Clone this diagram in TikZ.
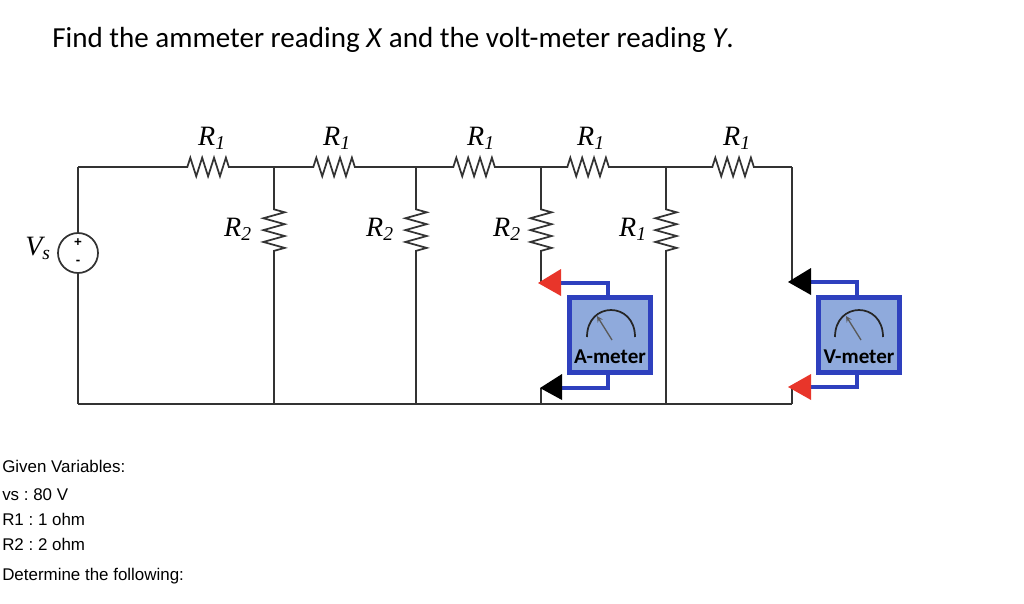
\documentclass[tikz,border=0pt]{standalone}
\usepackage{amsmath}
\usepackage{fontspec}
\setmainfont{Liberation Sans}
\newfontfamily\titlefont{Carlito}
\newfontfamily\lblfont{Liberation Serif}
\usetikzlibrary{decorations.pathmorphing}
\definecolor{meterblue}{HTML}{2E40BE}
\definecolor{meterfill}{HTML}{8FAADC}
\definecolor{tipred}{HTML}{E8352A}
\frenchspacing
\tikzset{
  wire/.style={draw=black!80,line width=1.3pt},
  resistor/.style={wire,decorate,decoration={zigzag,segment length=8.9,amplitude=7,pre length=1,post length=1}},
  resistorv/.style={wire,decorate,decoration={zigzag,segment length=8.9,amplitude=8,pre length=1,post length=1}},
  lead/.style={draw=meterblue,line width=3.6pt},
  meterbox/.style={draw=meterblue,line width=3.6pt,fill=meterfill},
  lbl/.style={inner sep=0pt,font=\lblfont\itshape\fontsize{21}{24}\selectfont},
  given/.style={inner sep=0pt,anchor=base west,font=\fontsize{12.7}{15}\selectfont}
}
\begin{document}
\begin{tikzpicture}[x=0.75pt,y=-0.75pt]
\useasboundingbox (0,0) rectangle (1024,603);
% title and given values
\node [inner sep=0pt,anchor=base west,font=\titlefont\fontsize{21.8}{26}\selectfont] (title) at (52,47) {Find the ammeter reading \textit{X} and the volt-meter reading \textit{Y}.};
\node [given] (given0) at (2,472) {Given Variables:};
\node [given] (given1) at (2,500) {vs : 80 V};
\node [given] (given2) at (2,525) {R1 : 1 ohm};
\node [given] (given3) at (2,550) {R2 : 2 ohm};
\node [given] (given4) at (2,580) {Determine the following:};
% corners and junctions
\coordinate (tl) at (78,167);
\coordinate (tr) at (792,167);
\coordinate (bl) at (78,404);
\coordinate (br) at (792,404);
\coordinate (ta) at (274,167);
\coordinate (tb) at (416,167);
\coordinate (tc) at (541,167);
\coordinate (td) at (666,167);
\coordinate (ba) at (274,404);
\coordinate (bb) at (416,404);
\coordinate (bc) at (541,404);
\coordinate (bd) at (666,404);
% source
\node [circle,draw=black!80,line width=1.3pt,minimum size=40*0.75pt,inner sep=0pt] (src) at (78,253) {};
\node [inner sep=0pt,font=\bfseries] (srcp) at (78,243) {+};
\node [inner sep=0pt,font=\bfseries] (srcm) at (78,262) {-};
\node [lbl] (vs) at (38,248) {V\textsubscript{s}};
\draw [wire] (src) -- (tl);
\draw [wire] (src) -- (bl);
% top row resistors
\coordinate (r1a) at (186,167);
\coordinate (r1b) at (234,167);
\coordinate (r2a) at (312,167);
\coordinate (r2b) at (360,167);
\coordinate (r3a) at (452,167);
\coordinate (r3b) at (500,167);
\coordinate (r4a) at (566,167);
\coordinate (r4b) at (614,167);
\coordinate (r5a) at (711,167);
\coordinate (r5b) at (759,167);
\draw [wire] (tl) -- (r1a);
\draw [resistor] (r1a) -- (r1b);
\draw [wire] (r1b) -- (r2a);
\draw [resistor] (r2a) -- (r2b);
\draw [wire] (r2b) -- (r3a);
\draw [resistor] (r3a) -- (r3b);
\draw [wire] (r3b) -- (r4a);
\draw [resistor] (r4a) -- (r4b);
\draw [wire] (r4b) -- (r5a);
\draw [resistor] (r5a) -- (r5b);
\draw [wire] (r5b) -- (tr);
\node [lbl] (l1) at (212,138) {R\textsubscript{1}};
\node [lbl] (l2) at (337,138) {R\textsubscript{1}};
\node [lbl] (l3) at (481,138) {R\textsubscript{1}};
\node [lbl] (l4) at (591,138) {R\textsubscript{1}};
\node [lbl] (l5) at (737,138) {R\textsubscript{1}};
% shunt resistors
\coordinate (s1a) at (274,208);
\coordinate (s1b) at (274,258);
\coordinate (s2a) at (416,208);
\coordinate (s2b) at (416,258);
\coordinate (s3a) at (541,208);
\coordinate (s3b) at (541,258);
\coordinate (s4a) at (666,208);
\coordinate (s4b) at (666,258);
\draw [wire] (ta) -- (s1a);
\draw [resistorv] (s1a) -- (s1b);
\draw [wire] (s1b) -- (ba);
\draw [wire] (tb) -- (s2a);
\draw [resistorv] (s2a) -- (s2b);
\draw [wire] (s2b) -- (bb);
\draw [wire] (tc) -- (s3a);
\draw [resistorv] (s3a) -- (s3b);
\draw [wire] (td) -- (s4a);
\draw [resistorv] (s4a) -- (s4b);
\draw [wire] (s4b) -- (bd);
\node [lbl] (l6) at (238,229) {R\textsubscript{2}};
\node [lbl] (l7) at (380,229) {R\textsubscript{2}};
\node [lbl] (l8) at (507,229) {R\textsubscript{2}};
\node [lbl] (l9) at (633,229) {R\textsubscript{1}};
% bottom wire
\draw [wire] (bl) -- (br);
% ammeter
\node [meterbox,minimum width=81*0.75pt,minimum height=75*0.75pt,inner sep=0pt] (ameter) at (610,335) {};
\node [inner sep=0pt,font=\titlefont\bfseries\fontsize{15.8}{18}\selectfont] (atext) at (610,357) {A-meter};
\coordinate (ared) at (538,283);
\coordinate (ablk) at (540,388);
\coordinate (awa) at (541,283);
\coordinate (awb) at (541,388);
\coordinate (aredb) at (561,283);
\coordinate (ablkb) at (562,388);
\coordinate (aup) at (608,283);
\coordinate (adn) at (608,388);
\coordinate (atop) at (608,295);
\coordinate (abot) at (608,375);
\draw [lead] (aredb) -- (aup) -- (atop);
\draw [lead] (ablkb) -- (adn) -- (abot);
\draw [wire] (s3b) -- (awa);
\draw [wire] (awb) -- (bc);
\fill [tipred] (ared) -- (561,269) -- (561,296) -- cycle;
\fill [black] (ablk) -- (562,374) -- (562,400) -- cycle;
\coordinate (aneedle) at (612,340);
\coordinate (aneedlet) at (597,316);
\draw [black!85,line width=1.3pt] (587,337) .. controls (587,301) and (635,301) .. (635,337);
\draw [black!65,line width=1pt,-stealth] (aneedle) -- (aneedlet);
% voltmeter
\node [meterbox,minimum width=81*0.75pt,minimum height=75*0.75pt,inner sep=0pt] (vmeter) at (859,335) {};
\node [inner sep=0pt,font=\titlefont\bfseries\fontsize{15.8}{18}\selectfont] (vtext) at (859,357) {V-meter};
\coordinate (vblk) at (788,282);
\coordinate (vred) at (788,387);
\coordinate (vblkb) at (811,282);
\coordinate (vredb) at (811,387);
\coordinate (vup) at (857,282);
\coordinate (vdn) at (857,387);
\coordinate (vtop) at (857,295);
\coordinate (vbot) at (857,375);
\coordinate (vwa) at (792,282);
\coordinate (vwb) at (792,387);
\draw [lead] (vblkb) -- (vup) -- (vtop);
\draw [lead] (vredb) -- (vdn) -- (vbot);
\draw [wire] (tr) -- (vwa);
\draw [wire] (vwb) -- (br);
\fill [black] (vblk) -- (811,268) -- (811,295) -- cycle;
\fill [tipred] (vred) -- (811,374) -- (811,400) -- cycle;
\coordinate (vneedle) at (861,340);
\coordinate (vneedlet) at (846,316);
\draw [black!85,line width=1.3pt] (835,337) .. controls (835,301) and (883,301) .. (883,337);
\draw [black!65,line width=1pt,-stealth] (vneedle) -- (vneedlet);
\end{tikzpicture}
\end{document}
